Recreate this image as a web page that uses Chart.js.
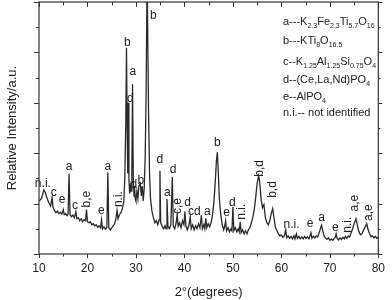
<!doctype html>
<html lang="en">
  <head>
    <meta charset="utf-8">
    <title>XRD pattern</title>
    <style>
      html, body { margin: 0; padding: 0; background: #fff; }
      .chartBox { width: 392px; height: 300px; }
    </style>
  </head>
  <body>
    <div class="chartBox">
      <canvas id="myChart"></canvas>
    </div>
    <script src="https://cdn.jsdelivr.net/npm/chart.js"></script>
    <script>
    // 2-theta positions (degrees) and intensities (a.u., frame runs 0..5)
    const twoTheta = [
      10, 10.5, 11, 11.3, 11.6, 12, 12.4, 12.7, 12.9, 13.2, 13.5, 13.8, 14.1, 14.4, 14.7, 15.0, 15.2, 15.5, 15.8, 16.0,
      16.2, 16.4, 16.7, 17.0, 17.3, 17.6, 17.8, 18.1, 18.4, 18.7, 19.0, 19.3, 19.6, 19.8, 20.0, 20.3, 20.6, 20.9, 21.2, 21.5,
      21.8, 22.1, 22.4, 22.7, 22.9, 23.1, 23.4, 23.7, 24.0, 24.2, 24.4, 24.7, 25.0, 25.3, 25.6, 25.9, 26.1, 26.3, 26.6, 26.9,
      27.2, 27.5, 27.7, 27.9, 28.05, 28.2, 28.3, 28.4, 28.55, 28.7, 28.85, 29.0, 29.15, 29.3, 29.45, 29.6, 29.7, 29.85, 30.0, 30.2,
      30.4, 30.6, 30.9, 31.1, 31.3, 31.5, 31.7, 31.9, 32.1, 32.3, 32.45, 32.6, 32.8, 33.0, 33.3, 33.6, 33.9, 34.2, 34.5, 34.8,
      34.95, 35.1, 35.4, 35.7, 36.0, 36.2, 36.4, 36.6, 36.9, 37.2, 37.5, 37.7, 38.0, 38.3, 38.5, 38.7, 39.0, 39.3, 39.6, 39.9,
      40.1, 40.3, 40.6, 40.9, 41.2, 41.4, 41.7, 42.0, 42.3, 42.6, 42.9, 43.2, 43.5, 43.7, 44.0, 44.2, 44.4, 44.6, 44.9, 45.2,
      45.5, 45.8, 46.1, 46.4, 46.6, 46.8, 47.0, 47.2, 47.5, 47.8, 48.1, 48.3, 48.5, 48.7, 49.0, 49.3, 49.6, 49.8, 50.0, 50.2,
      50.5, 50.8, 51.1, 51.3, 51.5, 51.7, 52.0, 52.3, 52.6, 52.9, 53.2, 53.5, 53.8, 54.1, 54.4, 54.7, 55.0, 55.3, 55.5, 55.8,
      56.1, 56.4, 56.7, 57.0, 57.3, 57.6, 57.9, 58.2, 58.5, 58.8, 59.1, 59.4, 59.7, 60.0, 60.3, 60.6, 60.9, 61.1, 61.4, 61.7,
      62.0, 62.3, 62.6, 62.8, 63.1, 63.3, 63.6, 63.9, 64.2, 64.5, 64.8, 65.1, 65.4, 65.7, 66.1, 66.3, 66.6, 66.9, 67.2, 67.5,
      67.8, 68.1, 68.3, 68.5, 68.8, 69.1, 69.4, 69.7, 70.0, 70.3, 70.6, 70.9, 71.1, 71.3, 71.5, 71.8, 72.1, 72.4, 72.7, 73.0,
      73.2, 73.5, 73.8, 74.1, 74.4, 74.7, 75.0, 75.4, 75.7, 76.0, 76.3, 76.6, 76.9, 77.2, 77.6, 77.9, 78.2, 78.5, 78.8, 79.1,
      79.4, 79.7, 80.0
    ];
    const intensity = [
      1.05, 1.10, 1.27, 1.22, 1.12, 1.02, 0.95, 1.12, 0.92, 0.86, 0.82, 0.85, 0.80, 0.83, 0.79, 0.88, 0.78, 0.80, 0.76, 0.80,
      1.59, 0.78, 0.74, 0.77, 0.72, 0.84, 0.70, 0.72, 0.66, 0.70, 0.64, 0.68, 0.66, 0.88, 0.64, 0.62, 0.64, 0.58, 0.60, 0.56,
      0.58, 0.53, 0.56, 0.52, 0.68, 0.50, 0.54, 0.49, 0.53, 1.62, 0.52, 0.48, 0.52, 0.56, 0.60, 0.72, 0.86, 0.70, 0.78, 0.82,
      0.90, 1.05, 1.50, 2.60, 4.09, 2.40, 1.60, 3.00, 1.50, 1.20, 1.35, 1.25, 1.60, 3.37, 1.50, 1.15, 1.35, 1.10, 1.05, 1.25,
      1.10, 1.35, 1.40, 1.15, 1.35, 1.05, 1.30, 1.90, 3.20, 5.60, 5.60, 2.80, 1.60, 1.10, 0.85, 0.72, 0.62, 0.66, 0.58, 0.68,
      1.65, 0.62, 0.55, 0.50, 0.56, 0.50, 1.09, 0.55, 0.50, 0.58, 1.53, 0.56, 0.50, 0.62, 0.78, 0.55, 0.62, 0.52, 0.66, 0.58,
      0.84, 0.56, 0.48, 0.56, 0.74, 0.50, 0.58, 0.48, 0.56, 0.50, 0.60, 0.52, 0.77, 0.50, 0.58, 0.50, 0.71, 0.52, 0.60, 0.54,
      0.62, 0.78, 1.05, 1.50, 1.85, 2.02, 1.60, 1.10, 0.78, 0.58, 0.48, 0.55, 0.66, 0.46, 0.52, 0.44, 0.50, 0.46, 0.93, 0.46,
      0.52, 0.44, 0.50, 0.44, 0.64, 0.42, 0.48, 0.40, 0.46, 0.40, 0.48, 0.52, 0.62, 0.72, 0.88, 1.12, 1.40, 1.55, 1.45, 1.10,
      0.92, 0.98, 0.72, 0.62, 0.58, 0.66, 0.80, 0.90, 0.70, 0.52, 0.46, 0.40, 0.36, 0.38, 0.33, 0.36, 0.48, 0.32, 0.36, 0.31,
      0.35, 0.30, 0.36, 0.30, 0.40, 0.31, 0.35, 0.30, 0.34, 0.30, 0.35, 0.31, 0.34, 0.30, 0.42, 0.31, 0.35, 0.32, 0.36, 0.34,
      0.42, 0.52, 0.57, 0.48, 0.36, 0.32, 0.29, 0.32, 0.27, 0.30, 0.27, 0.31, 0.33, 0.40, 0.31, 0.28, 0.32, 0.29, 0.33, 0.30,
      0.35, 0.31, 0.36, 0.34, 0.42, 0.50, 0.60, 0.70, 0.56, 0.44, 0.38, 0.40, 0.46, 0.52, 0.60, 0.48, 0.40, 0.34, 0.36, 0.32,
      0.35, 0.31, 0.33
    ];

    // peak labels: text, 2-theta, height, rotated?
    const peakText = ['n.i.', 'c', 'e', 'a', 'c', 'b,e', 'e', 'a', 'n.i.', 'b', 'd', 'a', 'd', 'b', 'b', 'd', 'a', 'd', 'c,e', 'd',
      'cd', 'a', 'b', 'e', 'd', 'n.i.', 'b,d', 'b,d', 'n.i.', 'e', 'a', 'e', 'n.i.', 'a,e', 'a,e'];
    const peakX = [10.8, 13.05, 14.75, 16.2, 17.45, 19.75, 22.85, 24.2, 26.35, 28.2, 28.85, 29.35, 29.55, 31.0, 33.6, 34.95, 36.45, 37.65, 38.7, 40.65,
      42.05, 44.75, 46.8, 48.7, 49.9, 51.85, 55.6, 58.15, 62.1, 65.9, 68.3, 71.15, 73.7, 75.2, 78.1];
    const peakY = [1.40, 1.22, 1.07, 1.73, 0.95, 1.09, 0.86, 1.73, 1.09, 4.19, 3.09, 3.62, 1.37, 1.45, 4.72, 1.87, 1.22, 1.68, 0.95, 1.02,
      0.83, 0.84, 2.21, 0.81, 1.02, 0.84, 1.70, 1.28, 0.58, 0.61, 0.72, 0.53, 0.58, 1.01, 0.82];
    const peakRot = [0, 0, 0, 0, 0, 1, 0, 0, 1, 0, 0, 0, 0, 0, 0, 0, 0, 0, 1, 0,
      0, 0, 0, 0, 0, 1, 1, 1, 0, 0, 0, 0, 1, 1, 1];

    // phase key, [text, subscript?] runs
    const phaseKey = [
      [['a---K', 0], ['2.3', 1], ['Fe', 0], ['2.3', 1], ['Ti', 0], ['5.7', 1], ['O', 0], ['16', 1]],
      [['b---KTi', 0], ['8', 1], ['O', 0], ['16.5', 1]],
      [['c--K', 0], ['1.25', 1], ['Al', 0], ['1.25', 1], ['Si', 0], ['0.75', 1], ['O', 0], ['4', 1]],
      [['d--(Ce,La,Nd)PO', 0], ['4', 1]],
      [['e--AlPO', 0], ['4', 1]],
      [['n.i.-- not identified', 0]]
    ];
    const keyRowY = [21, 40, 61, 79, 96, 112];

    const FONT = 'Liberation Sans, Arial, sans-serif';
    const INK = '#222';

    const decor = {
      id: 'decor',
      afterDraw(chart) {
        const ctx = chart.ctx;
        const a = chart.chartArea;
        const xs = chart.scales.x, ys = chart.scales.y;
        ctx.save();
        ctx.strokeStyle = '#333';
        ctx.lineWidth = 1.2;
        ctx.strokeRect(a.left, a.top, a.right - a.left, a.bottom - a.top);
        ctx.lineWidth = 1;
        ctx.beginPath();
        for (let v = 10; v <= 80; v += 5) {
          const px = Math.round(xs.getPixelForValue(v)) + 0.5;
          const len = v % 10 === 0 ? 4 : 2.5;
          ctx.moveTo(px, a.bottom); ctx.lineTo(px, a.bottom + len);
          ctx.moveTo(px, a.top); ctx.lineTo(px, a.top + len + 1);
        }
        for (let v = 0; v <= 5; v += 0.5) {
          const py = Math.round(ys.getPixelForValue(v)) + 0.5;
          const len = v % 1 === 0 ? 5 : 3;
          ctx.moveTo(a.left, py); ctx.lineTo(a.left - len, py);
          ctx.moveTo(a.right, py); ctx.lineTo(a.right + len - 1, py);
        }
        ctx.stroke();

        // peak labels
        ctx.fillStyle = INK;
        ctx.font = '12px ' + FONT;
        ctx.textAlign = 'center';
        ctx.textBaseline = 'middle';
        peakText.forEach((t, i) => {
          const px = xs.getPixelForValue(peakX[i]);
          const py = ys.getPixelForValue(peakY[i]);
          ctx.save();
          ctx.translate(px, py);
          if (peakRot[i]) ctx.rotate(-Math.PI / 2);
          ctx.fillText(t, 0, 0);
          ctx.restore();
        });

        // phase key
        ctx.textAlign = 'left';
        ctx.textBaseline = 'alphabetic';
        phaseKey.forEach((row, r) => {
          let x = 283;
          const y = keyRowY[r] + 4;
          row.forEach(([txt, sub]) => {
            ctx.font = (sub ? '7px ' : '11px ') + FONT;
            ctx.fillText(txt, x, sub ? y + 3 : y);
            x += ctx.measureText(txt).width;
          });
        });

        // axis titles
        ctx.font = '13px ' + FONT;
        ctx.textAlign = 'center';
        ctx.textBaseline = 'middle';
        ctx.fillText('2°(degrees)', (a.left + a.right) / 2, 292);
        ctx.save();
        ctx.translate(12, (a.top + a.bottom) / 2);
        ctx.rotate(-Math.PI / 2);
        ctx.fillText('Relative Intensity/a.u.', 0, 0);
        ctx.restore();
        ctx.restore();
      }
    };

    const config = {
      type: 'line',
      data: {
        datasets: [{
          data: twoTheta.map((t, i) => ({ x: t, y: intensity[i] })),
          borderColor: '#2a2a2a',
          borderWidth: 1.3,
          pointRadius: 0,
          tension: 0
        }]
      },
      options: {
        responsive: true,
        maintainAspectRatio: false,
        animation: false,
        layout: { padding: { top: 2, right: 8, left: 0, bottom: 0 } },
        scales: {
          x: {
            type: 'linear',
            min: 10,
            max: 80,
            grid: { display: false, drawTicks: false },
            border: { display: false },
            ticks: { stepSize: 10, padding: 7, color: INK, font: { size: 12, family: FONT } },
            afterFit(s) { s.height = 46; }
          },
          y: {
            min: 0,
            max: 5,
            grid: { display: false, drawTicks: false },
            border: { display: false },
            ticks: { display: false },
            afterFit(s) { s.width = 39; }
          }
        },
        plugins: {
          legend: { display: false },
          tooltip: { enabled: false }
        }
      },
      plugins: [decor]
    };

    const myChart = new Chart(document.getElementById('myChart'), config);
    </script>
  </body>
</html>
